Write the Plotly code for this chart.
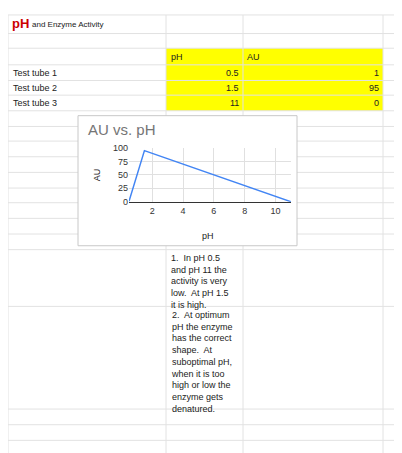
import plotly.graph_objects as go

W, H = 402, 453
OFF = 8  # page body margin

rows = ["Test tube 1", "Test tube 2", "Test tube 3"]
ph = [0.5, 1.5, 11]
au = [1, 95, 0]
note_1 = ["1.  In pH 0.5", "and pH 11 the", "activity is very", "low.  At pH 1.5", "it is high."]
note_2 = ["2.  At optimum", "pH the enzyme", "has the correct", "shape.  At", "suboptimal pH,",
          "when it is too", "high or low the", "enzyme gets", "denatured."]


def px(x):
    return (x - OFF) / W


def py(y):
    return 1 - (y - OFF) / H


shapes = []
annos = []
grid = "#e2e2e2"

# yellow data cells
shapes.append(dict(type="rect", xref="paper", yref="paper", x0=px(166), x1=px(383),
                   y0=py(44), y1=py(108), fillcolor="#ffff00", line_width=0, layer="below"))

# spreadsheet grid
row_lines = [10, 29, 44, 61, 77, 92, 108, 124, 139, 155, 171, 187, 202, 218, 234, 250, 308, 413, 429, 445]
col_lines = [8, 166, 243, 383]
for y in row_lines:
    shapes.append(dict(type="line", xref="paper", yref="paper", x0=px(8), x1=1,
                       y0=py(y), y1=py(y), line=dict(color=grid, width=1), layer="below"))
for x in col_lines:
    shapes.append(dict(type="line", xref="paper", yref="paper", x0=px(x), x1=px(x),
                       y0=py(10), y1=0, line=dict(color=grid, width=1), layer="below"))

# chart box
shapes.append(dict(type="rect", xref="paper", yref="paper", x0=px(78), x1=px(297),
                   y0=py(113), y1=py(246), fillcolor="white",
                   line=dict(color="#c8c8c8", width=1), layer="below"))

font = dict(family="Liberation Sans, Arial", size=9, color="#222")


def text(x, y, s, anchor="left", **kw):
    annos.append(dict(xref="paper", yref="paper", x=px(x), y=py(y), text=s, showarrow=False,
                      xanchor=anchor, yanchor="middle", font=kw.get("f", font)))


text(10, 19, "<b>pH</b>", f=dict(family="Liberation Sans, Arial", size=13, color="#cc0000"))
text(30, 20, "and Enzyme Activity", f=dict(family="Liberation Sans, Arial", size=8, color="#222"))
text(169, 53, "pH")
text(245, 53, "AU")
for i, r in enumerate(rows):
    yc = 69 + i * 15.5
    text(11, yc, r)
    text(241, yc, str(ph[i]), anchor="right")
    text(381, yc, str(au[i]), anchor="right")

annos.append(dict(xref="paper", yref="paper", x=px(169), y=py(251), text="<br>".join(note_1),
                  showarrow=False, xanchor="left", yanchor="top", align="left", font=font))
annos.append(dict(xref="paper", yref="paper", x=px(169), y=py(310), text="<br>".join(note_2),
                  showarrow=False, xanchor="left", yanchor="top", align="left", font=font))

# chart title and axis titles
text(86, 127, "AU vs. pH", f=dict(family="Liberation Sans, Arial", size=15, color="#757575"))
text(208, 236, "pH", anchor="center")
annos.append(dict(xref="paper", yref="paper", x=px(90), y=py(174), text="AU", textangle=-90,
                  showarrow=False, font=font))

fig = go.Figure(go.Scatter(x=ph, y=au, mode="lines", line=dict(color="#4285f4", width=1.5),
                           hoverinfo="skip"))

tickfont = dict(family="Liberation Sans, Arial", size=9, color="#333")
fig.update_layout(
    width=W, height=H, margin=dict(l=0, r=0, t=0, b=0), showlegend=False,
    paper_bgcolor="white", plot_bgcolor="rgba(0,0,0,0)",
    shapes=shapes, annotations=annos,
    xaxis=dict(domain=[px(129), px(291)], range=[0.5, 11], tickvals=[2, 4, 6, 8, 10],
               showgrid=True, gridcolor="#e0e0e0", zeroline=False, ticks="",
               tickfont=tickfont, showline=True, linecolor="#333", linewidth=1),
    yaxis=dict(domain=[py(201), py(146)], range=[0, 100], tickvals=[0, 25, 50, 75, 100],
               showgrid=True, gridcolor="#e0e0e0", zeroline=False, ticks="",
               tickfont=tickfont),
)

fig.write_html("out.html")
